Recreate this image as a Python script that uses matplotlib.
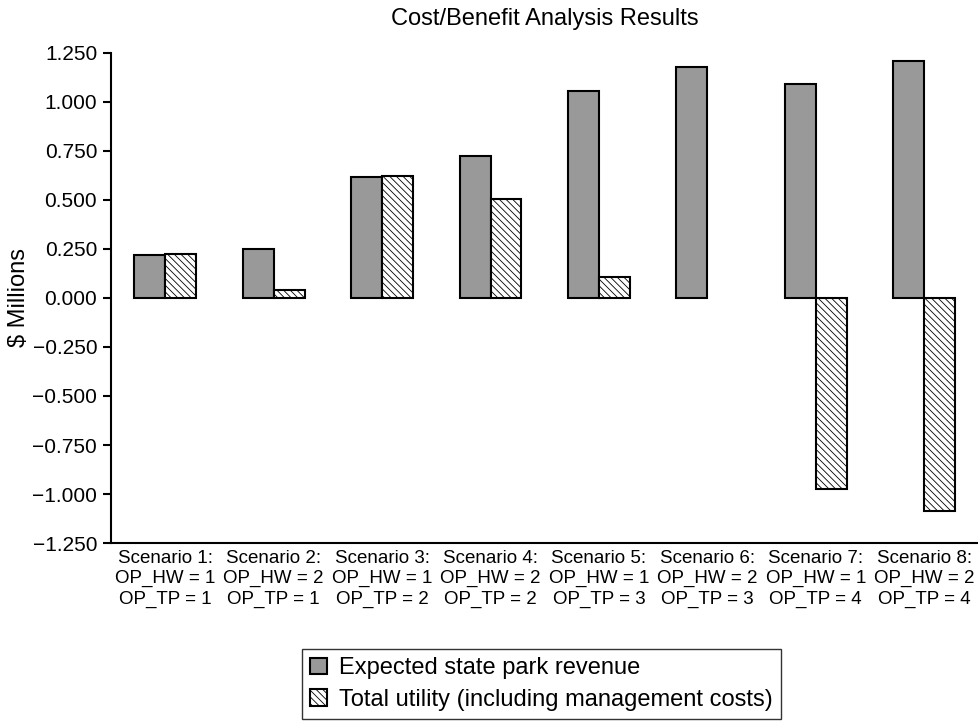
import numpy as np
import matplotlib
matplotlib.use("Agg")
import matplotlib.pyplot as plt

plt.rcParams['font.family'] = ['Liberation Sans', 'DejaVu Sans']
plt.rcParams['hatch.linewidth'] = 0.6
plt.rcParams['hatch.color'] = '#666666'

# data
scenarios = ["Scenario 1:", "Scenario 2:", "Scenario 3:", "Scenario 4:",
             "Scenario 5:", "Scenario 6:", "Scenario 7:", "Scenario 8:"]
op_hw = [1, 2, 1, 2, 1, 2, 1, 2]
op_tp = [1, 1, 2, 2, 3, 3, 4, 4]
revenue = np.array([0.218, 0.252, 0.615, 0.725, 1.057, 1.179, 1.094, 1.209])
utility = np.array([0.223, 0.040, 0.622, 0.503, 0.105, 0.0, -0.972, -1.085])
yticks = np.arange(-1.25, 1.26, 0.25)

labels = [f"{s}\nOP_HW = {h}\nOP_TP = {t}" for s, h, t in zip(scenarios, op_hw, op_tp)]

fig = plt.figure(figsize=(9.79, 7.25), dpi=100)
ax = fig.add_axes([0.1134, 0.251, 0.886, 0.676])

x = np.arange(len(scenarios))
w = 0.285
ax.bar(x - w / 2, revenue, w, color='#999999', edgecolor='black', linewidth=1.5,
       label='Expected state park revenue')
util_plot = np.where(utility == 0, np.nan, utility)
ax.bar(x + w / 2, util_plot, w, color='white', edgecolor='black', linewidth=1.5,
       hatch='\\\\\\\\\\', label='Total utility (including management costs)')

ax.set_xlim(-0.5, len(scenarios) - 0.5)
ax.set_ylim(-1.25, 1.25)
ax.set_yticks(yticks)
ax.set_yticklabels([f"{v:.3f}".replace('-', '\u2212') for v in yticks], fontsize=15)
ax.set_xticks(x)
ax.set_xticklabels(labels, fontsize=13.5, linespacing=1.25)
ax.tick_params(axis='x', length=0, pad=5)
ax.tick_params(axis='y', length=6, width=1.5, direction='out', pad=4)

for s in ['top', 'right']:
    ax.spines[s].set_visible(False)
for s in ['left', 'bottom']:
    ax.spines[s].set_linewidth(1.5)

ax.set_ylabel('$ Millions', fontsize=17)
ax.yaxis.set_label_coords(-0.093, 0.5)
ax.set_title('Cost/Benefit Analysis Results', fontsize=17, pad=20)

leg = fig.legend(loc='lower center', bbox_to_anchor=(0.553, -0.008), fontsize=17,
                 frameon=True, fancybox=False, edgecolor='black',
                 handlelength=0.7, handleheight=0.7, handletextpad=0.5,
                 borderpad=0.35, labelspacing=0.4)
leg.get_frame().set_linewidth(1.0)

fig.savefig('out.png', dpi=100)
